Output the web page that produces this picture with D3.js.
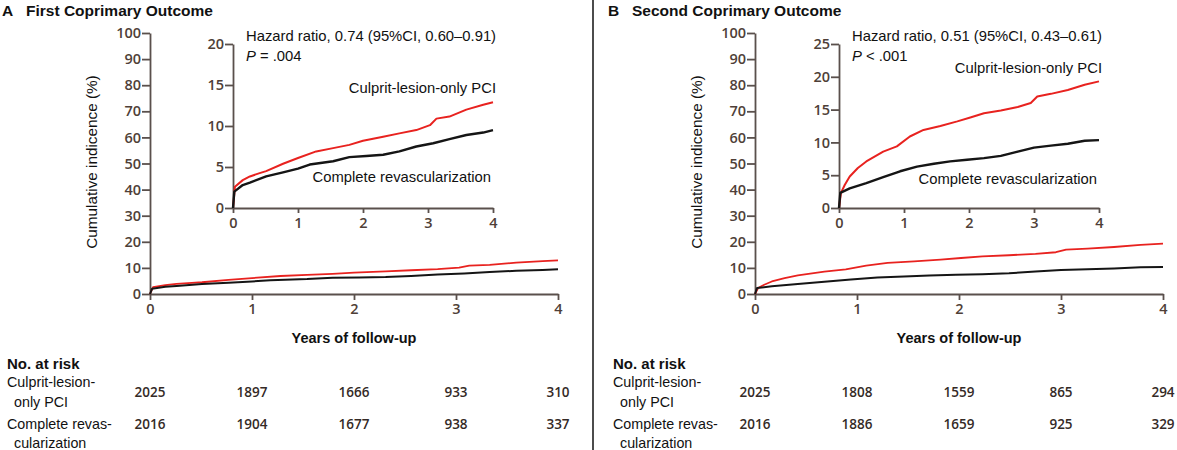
<!DOCTYPE html>
<html>
<head>
<meta charset="utf-8">
<script src="https://d3js.org/d3.v7.min.js"></script>
<style>
  body { margin: 0; background: #fff; }
  svg { display: block; }
  .lab { font-family: "Liberation Sans", Arial, sans-serif; fill: #111; }
  .tick text { font-family: "Open Sans", sans-serif; fill: #4f3f38; font-weight: 600; }
  .axis path, .axis line { stroke: #5a504c; stroke-width: 1.8px; }
  .curve { fill: none; stroke-linejoin: round; }
</style>
</head>
<body>
<svg id="chart" width="1177" height="450"></svg>
<script>
// --- data (years, cumulative %) ---
var yearTicks = [0, 1, 2, 3, 4];

var aCulpritT = [0, 0.03, 0.15, 0.26, 0.41, 0.51, 0.77, 1.0, 1.28, 1.54, 1.79, 2.0, 2.31, 2.56, 2.82, 3.03, 3.13, 3.33, 3.59, 3.85, 4.0];
var aCulpritY = [0, 2.6, 3.4, 3.85, 4.25, 4.5, 5.4, 6.1, 6.9, 7.3, 7.7, 8.2, 8.7, 9.1, 9.5, 10.1, 10.9, 11.15, 12.0, 12.6, 12.9];
var aCompleteT = [0, 0.02, 0.15, 0.26, 0.51, 0.77, 1.0, 1.18, 1.54, 1.79, 2.05, 2.31, 2.56, 2.82, 3.08, 3.33, 3.59, 3.85, 4.0];
var aCompleteY = [0, 2.0, 2.8, 3.1, 3.85, 4.35, 4.8, 5.3, 5.7, 6.2, 6.35, 6.5, 6.9, 7.5, 7.9, 8.4, 8.9, 9.2, 9.5];

var bCulpritT = [0, 0.03, 0.09, 0.165, 0.29, 0.42, 0.68, 0.89, 1.09, 1.3, 1.56, 1.82, 2.02, 2.23, 2.49, 2.75, 2.95, 3.05, 3.26, 3.52, 3.78, 4.0];
var bCulpritY = [0, 2.3, 3.55, 4.8, 6.1, 7.1, 8.6, 9.4, 10.9, 11.9, 12.5, 13.2, 13.8, 14.45, 14.85, 15.4, 16.0, 17.0, 17.4, 18.0, 18.8, 19.3];
var bCompleteT = [0, 0.02, 0.165, 0.42, 0.68, 0.94, 1.2, 1.46, 1.71, 1.97, 2.23, 2.49, 2.75, 3.0, 3.26, 3.52, 3.78, 4.0];
var bCompleteY = [0, 2.3, 3.0, 3.8, 4.7, 5.6, 6.3, 6.75, 7.1, 7.35, 7.6, 7.95, 8.6, 9.2, 9.5, 9.8, 10.25, 10.35];

var aRiskCulprit = [2025, 1897, 1666, 933, 310];
var aRiskComplete = [2016, 1904, 1677, 938, 337];
var bRiskCulprit = [2025, 1808, 1559, 865, 294];
var bRiskComplete = [2016, 1886, 1659, 925, 329];

var mainYTicks = d3.range(0, 101, 10);
var aInsetYTicks = [0, 5, 10, 15, 20];
var bInsetYTicks = [0, 5, 10, 15, 20, 25];

var RED = "#e8221f", BLACK = "#151515";

var svg = d3.select("#chart");

function zip(t, y) { return t.map(function (d, i) { return {t: d, v: y[i]}; }); }

function drawPanel(p) {
  var g = svg.append("g");

  // title
  g.append("text").attr("class", "lab").attr("x", p.x0 + 2).attr("y", 16)
    .attr("font-size", "15.5px").attr("font-weight", "bold").text(p.letter);
  g.append("text").attr("class", "lab").attr("x", p.x0 + 26).attr("y", 16)
    .attr("font-size", "15.5px").attr("font-weight", "bold").text(p.title);

  // main plot
  var x = d3.scaleLinear().domain([0, 4]).range([p.mx0, p.mx0 + 408]);
  var y = d3.scaleLinear().domain([0, 100]).range([294, 33]);

  g.append("g").attr("class", "axis").attr("transform", "translate(0,294)")
    .call(d3.axisBottom(x).tickValues(yearTicks).tickFormat(d3.format("d"))
      .tickSize(6).tickSizeOuter(0).tickPadding(4))
    .call(function (a) { a.selectAll("text").attr("font-size", "14.5px"); });
  g.append("g").attr("class", "axis").attr("transform", "translate(" + p.mx0 + ",0)")
    .call(d3.axisLeft(y).tickValues(mainYTicks).tickSize(8).tickSizeOuter(0).tickPadding(1))
    .call(function (a) { a.selectAll("text").attr("font-size", "14.5px"); });

  var line = d3.line().x(function (d) { return x(d.t); }).y(function (d) { return y(d.v); });
  g.append("path").datum(zip(p.culT, p.culY)).attr("class", "curve")
    .attr("stroke", RED).attr("stroke-width", 1.8).attr("d", line);
  g.append("path").datum(zip(p.comT, p.comY)).attr("class", "curve")
    .attr("stroke", BLACK).attr("stroke-width", 2).attr("d", line);

  g.append("text").attr("class", "lab").attr("font-size", "15.3px")
    .attr("transform", "translate(" + (p.mx0 - 53) + ",162) rotate(-90)")
    .attr("text-anchor", "middle").text("Cumulative indicence (%)");
  g.append("text").attr("class", "lab").attr("font-size", "14.5px").attr("font-weight", "bold")
    .attr("x", p.mx0 + 204).attr("y", 343).attr("text-anchor", "middle").text("Years of follow-up");

  // inset
  var ix = d3.scaleLinear().domain([0, 4]).range([p.ix0, p.ix0 + 260]);
  var iy = d3.scaleLinear().domain([0, p.imax]).range([208, 44]);
  g.append("g").attr("class", "axis").attr("transform", "translate(0,208)")
    .call(d3.axisBottom(ix).tickValues(yearTicks).tickFormat(d3.format("d"))
      .tickSize(5).tickSizeOuter(0).tickPadding(5))
    .call(function (a) { a.selectAll("text").attr("font-size", "14.5px"); });
  g.append("g").attr("class", "axis").attr("transform", "translate(" + p.ix0 + ",0)")
    .call(d3.axisLeft(iy).tickValues(p.iticks).tickSize(8).tickSizeOuter(0).tickPadding(1))
    .call(function (a) { a.selectAll("text").attr("font-size", "14.5px"); });

  var iline = d3.line().x(function (d) { return ix(d.t); }).y(function (d) { return iy(d.v); });
  g.append("path").datum(zip(p.culT, p.culY)).attr("class", "curve")
    .attr("stroke", RED).attr("stroke-width", 2).attr("d", iline);
  g.append("path").datum(zip(p.comT, p.comY)).attr("class", "curve")
    .attr("stroke", BLACK).attr("stroke-width", 2.4).attr("d", iline);

  g.append("text").attr("class", "lab").attr("font-size", "14.8px")
    .attr("x", p.ix0 + 13).attr("y", 41).text(p.hr);
  var pt = g.append("text").attr("class", "lab").attr("font-size", "14.8px")
    .attr("x", p.ix0 + 13).attr("y", 61);
  pt.append("tspan").attr("font-style", "italic").text("P");
  pt.append("tspan").text(p.pval);

  g.append("text").attr("class", "lab").attr("font-size", "14.8px").attr("text-anchor", "end")
    .attr("x", p.ix0 + 263).attr("y", p.culLabY).text("Culprit-lesion-only PCI");
  g.append("text").attr("class", "lab").attr("font-size", "14.8px").attr("text-anchor", "end")
    .attr("x", p.ix0 + 258).attr("y", p.comLabY).text("Complete revascularization");

  // numbers at risk
  var lx = p.x0 + 7;
  g.append("text").attr("class", "lab").attr("font-size", "15px").attr("font-weight", "bold")
    .attr("x", lx).attr("y", 369).text("No. at risk");
  [["Culprit-lesion-", 387, 0], ["only PCI", 407, 7], ["Complete revas-", 429, 0], ["cularization", 448, 7]]
    .forEach(function (r) {
      g.append("text").attr("class", "lab").attr("font-size", "14.3px")
        .attr("x", lx + r[2]).attr("y", r[1]).text(r[0]);
    });
  [[p.riskCul, 397], [p.riskCom, 429]].forEach(function (row) {
    g.selectAll(null).data(row[0]).enter().append("text")
      .attr("x", function (d, i) { return x(yearTicks[i]); })
      .attr("y", row[1]).attr("text-anchor", "middle")
      .attr("font-family", "'Open Sans', sans-serif").attr("font-weight", 600)
      .attr("font-size", "13.5px").attr("fill", "#342a26")
      .text(function (d) { return d; });
  });
}

drawPanel({
  x0: 0, letter: "A", title: "First Coprimary Outcome", mx0: 150, ix0: 233, imax: 20,
  iticks: aInsetYTicks, culT: aCulpritT, culY: aCulpritY, comT: aCompleteT, comY: aCompleteY,
  hr: "Hazard ratio, 0.74 (95%CI, 0.60\u20130.91)", pval: " = .004",
  culLabY: 93, comLabY: 182, riskCul: aRiskCulprit, riskCom: aRiskComplete
});
drawPanel({
  x0: 606, letter: "B", title: "Second Coprimary Outcome", mx0: 755, ix0: 839, imax: 25,
  iticks: bInsetYTicks, culT: bCulpritT, culY: bCulpritY, comT: bCompleteT, comY: bCompleteY,
  hr: "Hazard ratio, 0.51 (95%CI, 0.43\u20130.61)", pval: " < .001",
  culLabY: 73, comLabY: 184, riskCul: bRiskCulprit, riskCom: bRiskComplete
});

svg.append("line").attr("x1", 593).attr("x2", 593).attr("y1", 0).attr("y2", 450)
  .attr("stroke", "#111").attr("stroke-width", 1.5);
</script>
</body>
</html>
